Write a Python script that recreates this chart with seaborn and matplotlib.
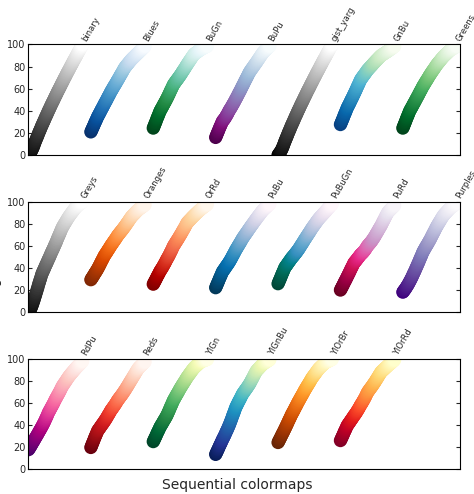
import numpy as np
import matplotlib
matplotlib.use('Agg')
import matplotlib.pyplot as plt
import seaborn as sns

# colormap names per panel (the lightness data is read from each colormap)
row1 = ['binary', 'Blues', 'BuGn', 'BuPu', 'gist_yarg', 'GnBu', 'Greens']
row2 = ['Greys', 'Oranges', 'OrRd', 'PuBu', 'PuBuGn', 'PuRd', 'Purples']
row3 = ['RdPu', 'Reds', 'YlGn', 'YlGnBu', 'YlOrBr', 'YlOrRd']
rows = [row1, row2, row3]
yticks = [0, 20, 40, 60, 80, 100]

def lightness(name, x):
    rgb = matplotlib.colormaps[name](x)[:, :3]
    lin = np.where(rgb <= 0.04045, rgb / 12.92, ((rgb + 0.055) / 1.055) ** 2.4)
    Y = lin @ np.array([0.2126, 0.7152, 0.0722])
    f = np.where(Y > (6/29)**3, np.cbrt(Y), Y / (3*(6/29)**2) + 4/29)
    return 116*f - 16

sns.set_style('white')
plt.rcParams['font.family'] = ['DejaVu Sans']
fig, axes = plt.subplots(3, 1, figsize=(4.74, 4.94), dpi=100)
fig.subplots_adjust(left=0.06, right=0.97, top=0.91, bottom=0.05, hspace=0.42)
x = np.linspace(0, 1, 100)
dc = 1.15
for ax, names in zip(axes, rows):
    locs = []
    for j, name in enumerate(names):
        cm = name + '_r'
        L = lightness(cm, x)
        sns.scatterplot(x=x + j*dc, y=L, hue=x, palette=cm, hue_norm=(0, 1),
                        s=90, linewidth=0, legend=False, ax=ax)
        locs.append(x[-1] + j*dc - 0.05)
    ax.set_xlim(0, 6*dc + 1.05)
    ax.set_ylim(0, 100)
    ax.set_yticks(yticks)
    ax.tick_params(axis='y', labelsize=7, direction='in', length=3, left=True, right=True, pad=2)
    ax.xaxis.set_ticks_position('top')
    ax.set_xticks(locs)
    ax.set_xticklabels(names, rotation=60, ha='left', fontsize=6)
    ax.tick_params(axis='x', length=0, pad=1)
    for s in ax.spines.values():
        s.set_color('black'); s.set_linewidth(0.8)
    ax.set_xlabel(''); ax.set_ylabel('')
axes[1].set_ylabel('Lightness $L^*$', fontsize=9, labelpad=1)
fig.text(0.5, 0.01, 'Sequential colormaps', ha='center', fontsize=10)
fig.savefig('out.png', dpi=100)
